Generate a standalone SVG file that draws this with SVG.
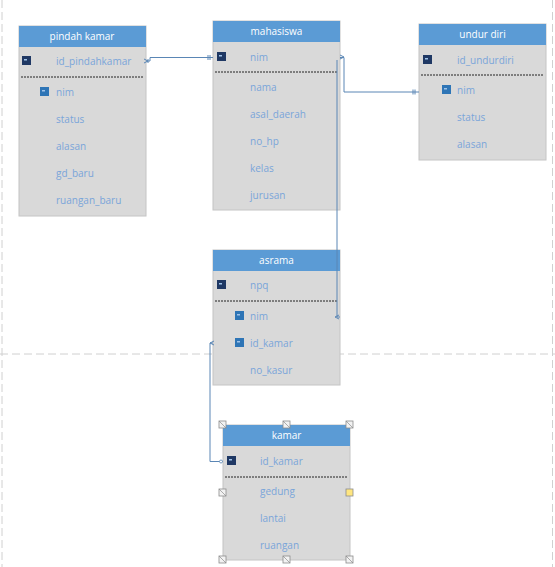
<svg xmlns="http://www.w3.org/2000/svg" width="555" height="567" viewBox="0 0 555 567">
<style>
.body{fill:#d9d9d9;stroke:#c4c4c4;stroke-width:1}
.head{fill:#5b9bd5}
.ht{font-family:"Open Sans","Liberation Sans",sans-serif;font-size:10px;fill:#ffffff;text-anchor:middle;font-weight:normal}
.ft{font-family:"Open Sans","Liberation Sans",sans-serif;font-size:10px;fill:#7aa5d9}
.sep{stroke:#222;stroke-width:1;stroke-dasharray:2 1}
.pk{fill:#1f3864}
.fk{fill:#2e75b6}
.ico{fill:#9fc3ea}
.conn{fill:none;stroke:#5a86b5;stroke-width:1}
.page{fill:none;stroke:#d0d0d0;stroke-width:1;stroke-dasharray:8 4}
.hdl{fill:#f2f2f2;stroke:#8c8c8c;stroke-width:0.8}
.hdly{fill:#ffe680;stroke:#8c8c8c;stroke-width:0.8}
.diag{stroke:#8c8c8c;stroke-width:0.7}
</style>
<rect width="555" height="567" fill="#ffffff"/>
<line class="page" x1="2" y1="0" x2="2" y2="567"/>
<line class="page" x1="552.5" y1="0" x2="552.5" y2="567"/>
<line class="page" x1="0" y1="354" x2="555" y2="354"/>

<g id="pindah-kamar">
<rect class="body" x="19" y="26" width="127" height="190"/>
<rect class="head" x="19" y="26" width="127" height="21"/>
<text class="ht" x="82" y="40">pindah kamar</text>
<rect class="pk" x="22" y="56" width="9" height="9"/><rect class="ico" x="24" y="59" width="3" height="1.5"/>
<text class="ft" x="56" y="65">id_pindahkamar</text>
<line class="sep" x1="21" y1="77" x2="144" y2="77"/>
<rect class="fk" x="40" y="87" width="9" height="9"/><rect class="ico" x="42" y="90" width="3" height="1.5"/>
<text class="ft" x="56" y="96">nim</text>
<text class="ft" x="56" y="123">status</text>
<text class="ft" x="56" y="150">alasan</text>
<text class="ft" x="56" y="177">gd_baru</text>
<text class="ft" x="56" y="204">ruangan_baru</text>
</g>

<g id="mahasiswa">
<rect class="body" x="213" y="21" width="127" height="189"/>
<rect class="head" x="213" y="21" width="127" height="21"/>
<text class="ht" x="276.5" y="35">mahasiswa</text>
<rect class="pk" x="217" y="52" width="9" height="9"/><rect class="ico" x="219" y="55" width="3" height="1.5"/>
<text class="ft" x="250" y="61">nim</text>
<line class="sep" x1="215" y1="72" x2="338" y2="72"/>
<text class="ft" x="250" y="91">nama</text>
<text class="ft" x="250" y="118">asal_daerah</text>
<text class="ft" x="250" y="145">no_hp</text>
<text class="ft" x="250" y="172">kelas</text>
<text class="ft" x="250" y="199">jurusan</text>
</g>

<g id="undur-diri">
<rect class="body" x="419" y="24" width="127" height="136"/>
<rect class="head" x="419" y="24" width="127" height="21"/>
<text class="ht" x="482.5" y="38">undur diri</text>
<rect class="pk" x="423" y="55" width="9" height="9"/><rect class="ico" x="425" y="58" width="3" height="1.5"/>
<text class="ft" x="457" y="64">id_undurdiri</text>
<line class="sep" x1="421" y1="75" x2="544" y2="75"/>
<rect class="fk" x="442" y="85" width="9" height="9"/><rect class="ico" x="444" y="88" width="3" height="1.5"/>
<text class="ft" x="457" y="94">nim</text>
<text class="ft" x="457" y="121">status</text>
<text class="ft" x="457" y="148">alasan</text>
</g>

<g id="asrama">
<rect class="body" x="213" y="250" width="127" height="135"/>
<rect class="head" x="213" y="250" width="127" height="21"/>
<text class="ht" x="276.5" y="264">asrama</text>
<rect class="pk" x="217" y="280" width="9" height="9"/><rect class="ico" x="219" y="283" width="3" height="1.5"/>
<text class="ft" x="250" y="289">npq</text>
<line class="sep" x1="215" y1="301" x2="338" y2="301"/>
<rect class="fk" x="235" y="311" width="9" height="9"/><rect class="ico" x="237" y="314" width="3" height="1.5"/>
<text class="ft" x="250" y="320">nim</text>
<rect class="fk" x="235" y="338" width="9" height="9"/><rect class="ico" x="237" y="341" width="3" height="1.5"/>
<text class="ft" x="250" y="347">id_kamar</text>
<text class="ft" x="250" y="374">no_kasur</text>
</g>

<g id="kamar">
<rect class="body" x="223" y="425" width="127" height="135" stroke="#a6a6a6"/>
<rect class="head" x="223" y="425" width="127" height="21"/>
<text class="ht" x="286.5" y="439">kamar</text>
<rect class="pk" x="227" y="456" width="9" height="9"/><rect class="ico" x="229" y="459" width="3" height="1.5"/>
<text class="ft" x="260" y="465">id_kamar</text>
<line class="sep" x1="225" y1="477" x2="348" y2="477"/>
<text class="ft" x="260" y="495">gedung</text>
<text class="ft" x="260" y="522">lantai</text>
<text class="ft" x="260" y="549">ruangan</text>
<g id="handles">
<rect class="hdl" x="219" y="421" width="7" height="7"/><line class="diag" x1="219" y1="421" x2="226" y2="428"/>
<rect class="hdl" x="283" y="421" width="7" height="7"/><line class="diag" x1="283" y1="421" x2="290" y2="428"/>
<rect class="hdl" x="346" y="421" width="7" height="7"/><line class="diag" x1="346" y1="421" x2="353" y2="428"/>
<rect class="hdl" x="219" y="489" width="7" height="7"/><line class="diag" x1="219" y1="489" x2="226" y2="496"/>
<rect class="hdly" x="346" y="489" width="7" height="7"/>
<rect class="hdl" x="219" y="556" width="7" height="7"/><line class="diag" x1="219" y1="556" x2="226" y2="563"/>
<rect class="hdl" x="283" y="556" width="7" height="7"/><line class="diag" x1="283" y1="556" x2="290" y2="563"/>
<rect class="hdl" x="346" y="556" width="7" height="7"/><line class="diag" x1="346" y1="556" x2="353" y2="563"/>
</g>
</g>

<g id="connectors">
<path class="conn" d="M146,61 H150 V57.5 H213"/>
<path class="conn" d="M144,59 L148,61 L144,63 M148,59 V63"/>
<path class="conn" d="M208,55 V60 M210,55 V60"/>
<path class="conn" d="M340,57.5 H344 V92 H419"/>
<path class="conn" d="M413,89.5 V94.5 M415,89.5 V94.5"/>
<path class="conn" d="M337,60 V317 H340"/>
<path class="conn" d="M335,317 L339,315 M335,317 L339,319"/>
<path class="conn" d="M340,55 L344,57 L340,59"/>
<path class="conn" d="M213,343 H210 V461.5 H223"/>
<path class="conn" d="M214,341 L210,343 L214,345"/>
<circle cx="221" cy="461.5" r="1.5" fill="#fff" stroke="#5a86b5" stroke-width="0.8"/>
</g>
</svg>
